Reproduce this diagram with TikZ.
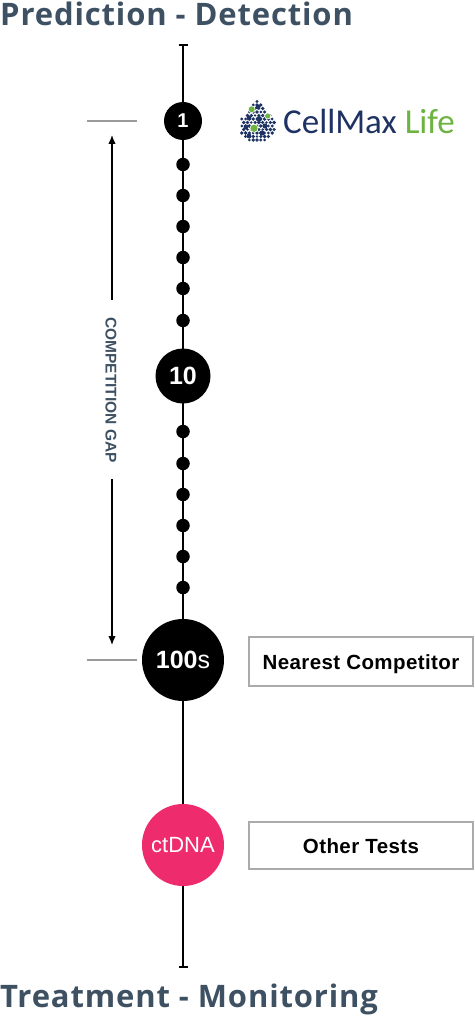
\documentclass[tikz,border=0pt]{standalone}
\usepackage{fontspec}
\setmainfont{Liberation Sans}
\newfontfamily\titlefont[LetterSpace=2.8]{Open Sans}
\newfontfamily\logofont{Carlito}
\newfontfamily\boxfont[LetterSpace=2]{Liberation Sans}
\newfontfamily\gapfont{Liberation Sans}
\definecolor{slate}{HTML}{3E5163}
\definecolor{pinkdot}{HTML}{EE2B6C}
\definecolor{rulegrey}{HTML}{9A9A9A}
\definecolor{boxgrey}{HTML}{ABABAB}
\definecolor{logonavy}{HTML}{1F3264}
\definecolor{logogreen}{HTML}{6DB33F}
\usetikzlibrary{arrows.meta}
\tikzset{
  axisline/.style={line width=1.3pt,black},
  bigdot/.style={circle,fill=black,text=white,inner sep=0pt,minimum size=#1,font=\fontsize{21}{24}\selectfont},
  smalldot/.style={circle,fill=black,inner sep=0pt,minimum size=13.5pt},
  marker/.style={line width=1.5pt,rulegrey},
  gaparrow/.style={line width=1.3pt,black,-{Latex[length=9pt,width=7.5pt]}},
  tagbox/.style={draw=boxgrey,line width=1.4pt,fill=white,minimum width=224pt,inner sep=0pt,text height=17pt,text depth=2pt,font=\boxfont\bfseries\fontsize{20.5}{23}\selectfont},
  heading/.style={anchor=base west,inner sep=0pt,text=slate,font=\titlefont\bfseries\fontsize{31}{36}\selectfont}
}
\begin{document}
\begin{tikzpicture}[x=1pt,y=-1pt]
\useasboundingbox (0,0) rectangle (474,1016);
\node[heading] (title) at (0,26) {Prediction - Detection};
\node[heading] (footer) at (0,1007) {Treatment - Monitoring};
% axis
\coordinate (top) at (183,45);
\coordinate (bot) at (183,967);
\coordinate (topL) at (178.5,45);
\coordinate (topR) at (187.5,45);
\coordinate (botL) at (178.5,967);
\coordinate (botR) at (187.5,967);
\draw[axisline] (top) -- (bot);
\draw[axisline] (topL) -- (topR);
\draw[axisline] (botL) -- (botR);
% big circles
\node[bigdot=38pt,font=\bfseries\fontsize{20}{22}\selectfont] (n1) at (183,121) {1};
\node[bigdot=55pt,font=\bfseries\fontsize{25}{28}\selectfont] (n10) at (183,376) {10};
\node[bigdot=82pt,font=\fontsize{25}{28}\selectfont] (n100) at (183,660) {\textbf{100}s};
\node[bigdot=82pt,fill=pinkdot,font=\fontsize{22}{24}\selectfont] (nct) at (183,845) {ctDNA};
% small dots
\foreach \y [count=\i] in {164.5,195.5,226.5,257.5,288.5,320.5,431.5,463.5,494.5,525.5,556.5,587.5}
  \node[smalldot] (d\i) at (183,\y) {};
% markers
\coordinate (m1a) at (87,121);
\coordinate (m1b) at (137,121);
\coordinate (m2a) at (87,660);
\coordinate (m2b) at (137,660);
\draw[marker] (m1a) -- (m1b);
\draw[marker] (m2a) -- (m2b);
% gap
\node[rotate=-90,text=slate,inner xsep=16.5pt,inner ysep=0pt,font=\gapfont\bfseries\fontsize{15.5}{18}\selectfont] (gap) at (111,390) {COMPETITION GAP};
\coordinate (tipT) at (112,135);
\coordinate (tipB) at (112,645);
\coordinate (lineT) at (112,300);
\coordinate (lineB) at (112,479);
\draw[gaparrow] (lineT) -- (tipT);
\draw[gaparrow] (lineB) -- (tipB);
% boxes
\node[tagbox,minimum height=49pt] (near) at (361,661.5) {Nearest Competitor};
\node[tagbox,minimum height=47pt] (other) at (361,845.5) {Other Tests};
% logo
\node[anchor=base west,inner sep=0pt,font=\logofont\fontsize{35}{40}\selectfont,text=logonavy] (logo) at (283,134) {CellMax \textcolor{logogreen}{Life}};
\foreach \y/\w/\o in {101.5/0/0,105/3.8/0,108.5/3.8/1.9,112/7.6/0,115.5/11.4/1.9,119/15.2/0,122.5/15.2/1.9,126/15.2/0,129.5/15.2/1.9,133/15.2/0,136.5/11.4/0,140/7.6/0}{
  \pgfmathtruncatemacro{\n}{floor(\w/3.8+0.01)}
  \foreach \k in {-\n,...,\n}{
    \pgfmathsetmacro{\r}{1.35+0.6*abs(sin(47*\k+83*\y))}
    \fill[logonavy] ({257+3.8*\k+\o},\y) circle[radius=\r pt];
  }
}
\foreach \x/\y/\r in {259/119/3,249/118/2.4,265/126/2.6,258/107/2.4,246/127/2.4,262/133/2.6,249/136/2.4}
  \fill[logonavy] (\x,\y) circle[radius=\r pt];
\foreach \x/\y/\r in {251.7/109.3/3,267.7/116/2.6,254/128.3/3.6}{
  \fill[white] (\x,\y) circle[radius=\r pt+0.8pt];
  \fill[logogreen] (\x,\y) circle[radius=\r pt];
}
\end{tikzpicture}
\end{document}
